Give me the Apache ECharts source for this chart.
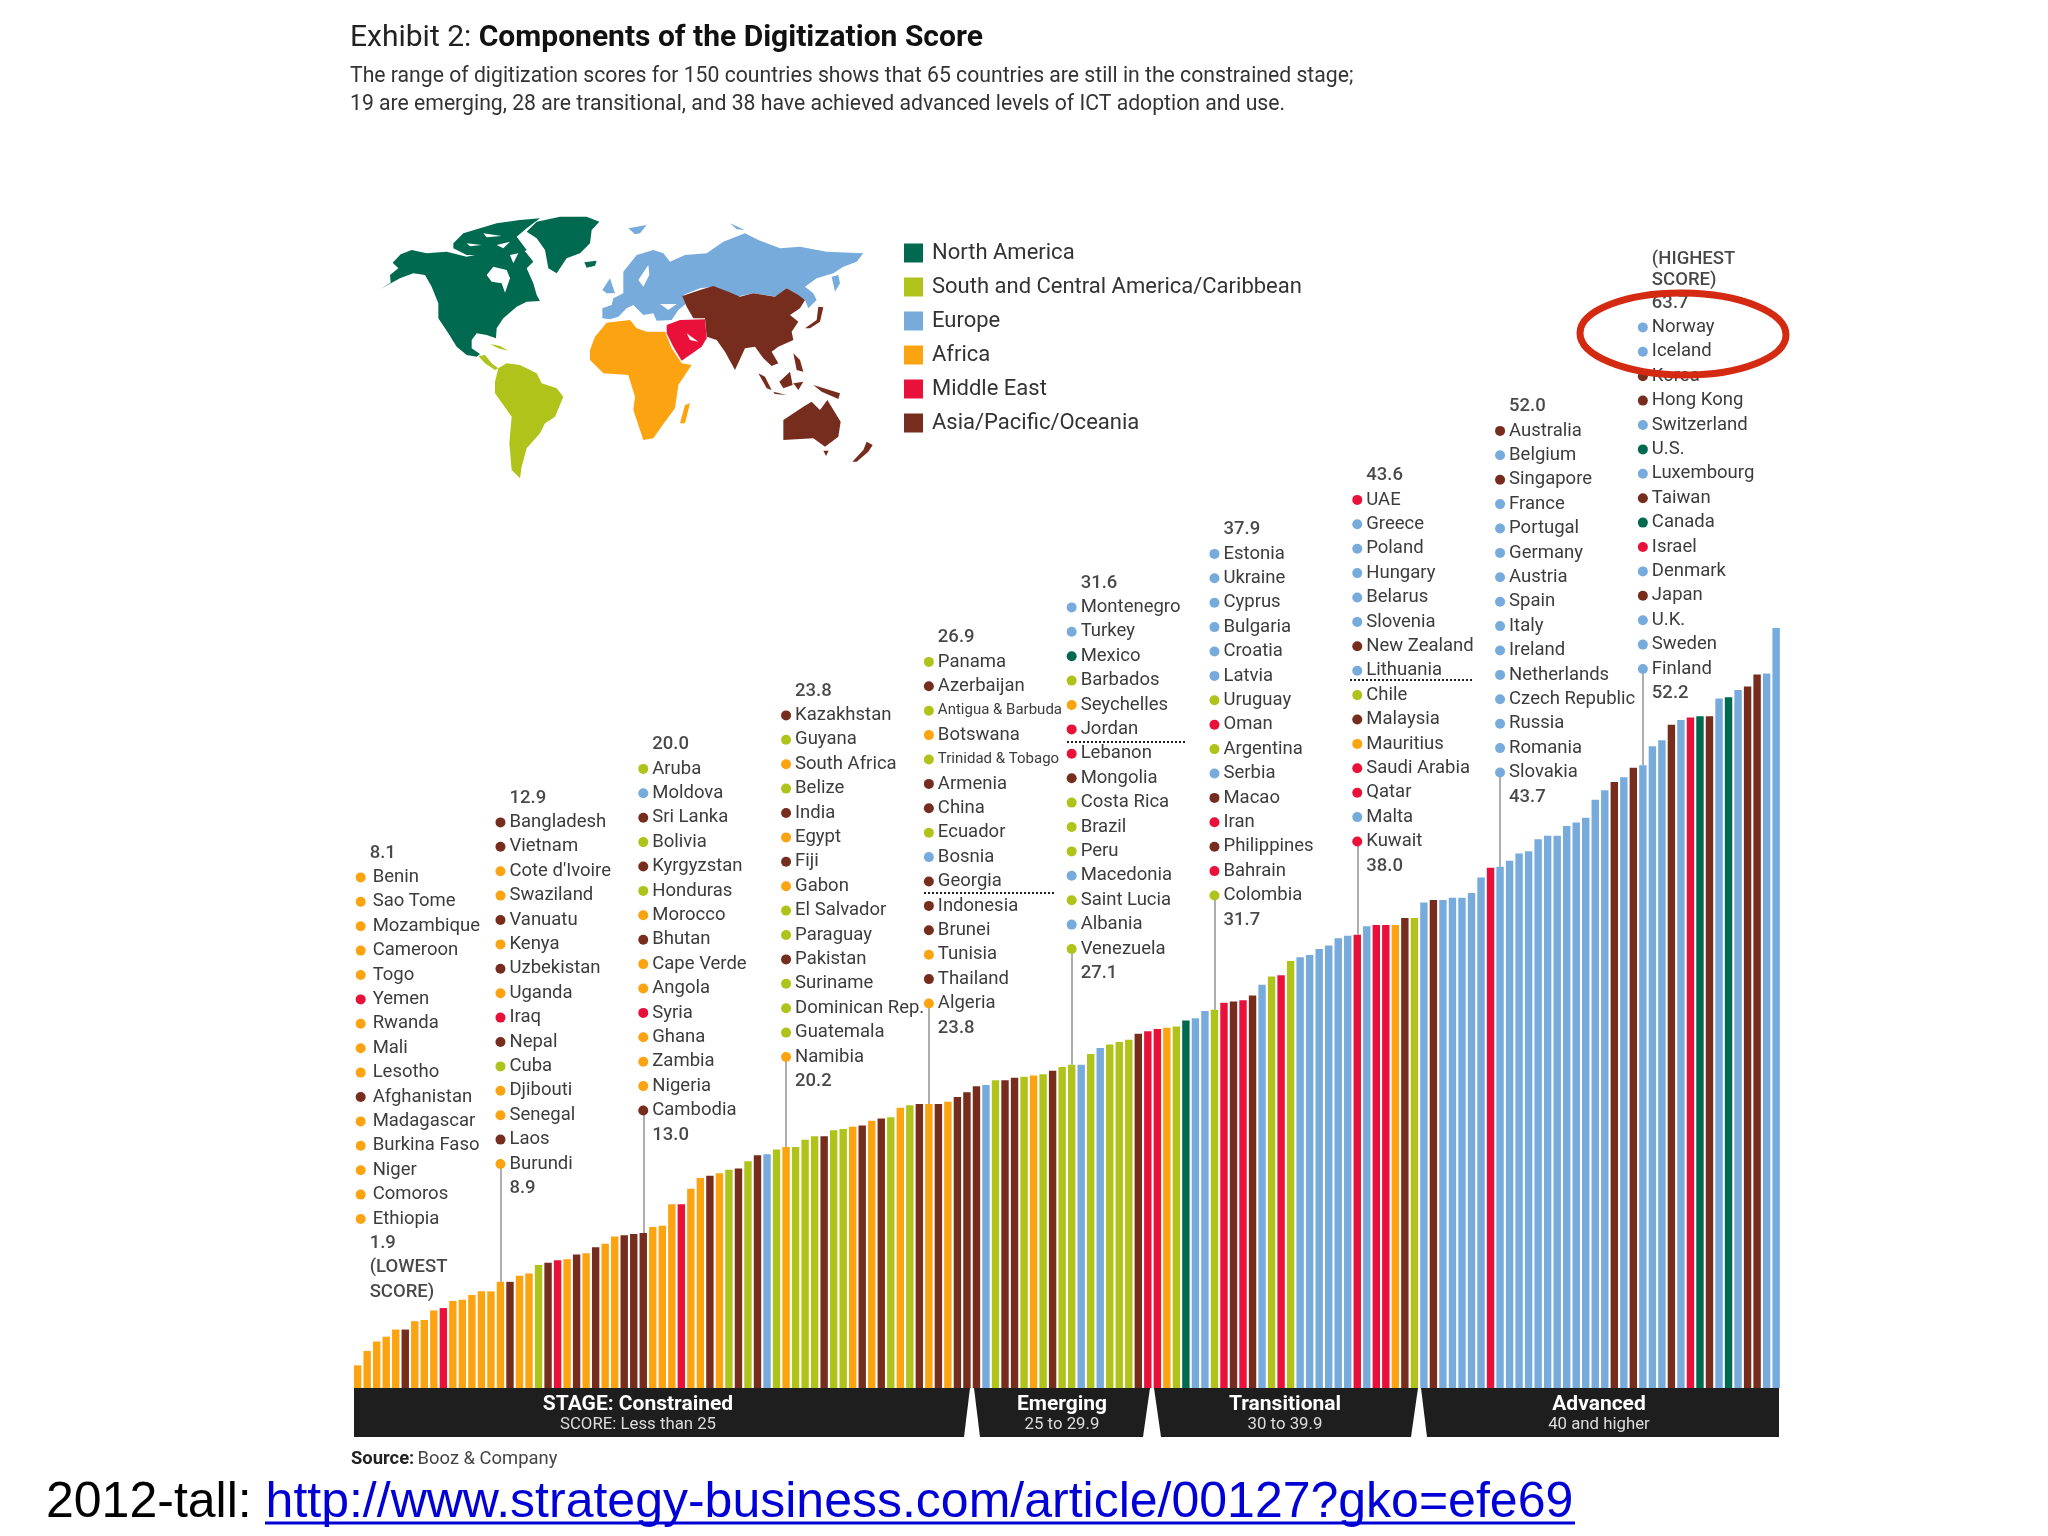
<!DOCTYPE html>
<html><head><meta charset="utf-8">
<script src="https://cdn.jsdelivr.net/npm/echarts@6/dist/echarts.min.js"></script>
<style>html,body{margin:0;background:#fff}#c{width:2048px;height:1536px}</style></head>
<body><div id="c"></div>
<script>
// ---------- data (lowest score first) ----------
const regionNames = ['North America','South and Central America/Caribbean','Europe','Africa','Middle East','Asia/Pacific/Oceania'];
const regionColors = ['#006a50','#afc31a','#77abdc','#fca311','#e9103a','#772d1e'];
const countries = [
'Ethiopia','Comoros','Niger','Burkina Faso','Madagascar','Afghanistan','Lesotho','Mali','Rwanda','Yemen','Togo','Cameroon','Mozambique','Sao Tome','Benin',
'Burundi','Laos','Senegal','Djibouti','Cuba','Nepal','Iraq','Uganda','Uzbekistan','Kenya','Vanuatu','Swaziland',"Cote d'Ivoire",'Vietnam','Bangladesh',
'Cambodia','Nigeria','Zambia','Ghana','Syria','Angola','Cape Verde','Bhutan','Morocco','Honduras','Kyrgyzstan','Bolivia','Sri Lanka','Moldova','Aruba',
'Namibia','Guatemala','Dominican Rep.','Suriname','Pakistan','Paraguay','El Salvador','Gabon','Fiji','Egypt','India','Belize','South Africa','Guyana','Kazakhstan',
'Algeria','Thailand','Tunisia','Brunei','Indonesia','Georgia','Bosnia','Ecuador','China','Armenia','Trinidad & Tobago','Botswana','Antigua & Barbuda','Azerbaijan','Panama',
'Venezuela','Albania','Saint Lucia','Macedonia','Peru','Brazil','Costa Rica','Mongolia','Lebanon','Jordan','Seychelles','Barbados','Mexico','Turkey','Montenegro',
'Colombia','Bahrain','Philippines','Iran','Macao','Serbia','Argentina','Oman','Uruguay','Latvia','Croatia','Bulgaria','Cyprus','Ukraine','Estonia',
'Kuwait','Malta','Qatar','Saudi Arabia','Mauritius','Malaysia','Chile','Lithuania','New Zealand','Slovenia','Belarus','Hungary','Poland','Greece','UAE',
'Slovakia','Romania','Russia','Czech Republic','Netherlands','Ireland','Italy','Spain','Austria','Germany','Portugal','France','Singapore','Belgium','Australia',
'Finland','Sweden','U.K.','Japan','Denmark','Israel','Canada','Taiwan','Luxembourg','U.S.','Switzerland','Hong Kong','Korea','Iceland','Norway'];
const countryRegion = [
3,3,3,3,3,5,3,3,3,4,3,3,3,3,3,
3,5,3,3,1,5,4,3,5,3,5,3,3,5,5,
5,3,3,3,4,3,3,5,3,1,5,1,5,2,1,
3,1,1,1,5,1,1,3,5,3,5,1,3,1,5,
3,5,3,5,5,5,2,1,5,5,1,3,1,5,1,
1,2,1,2,1,1,1,5,4,4,3,1,0,2,2,
1,4,5,4,5,2,1,4,1,2,2,2,2,2,2,
4,2,4,4,3,5,1,2,5,2,2,2,2,2,4,
2,2,2,2,2,2,2,2,2,2,2,2,5,2,5,
2,2,2,5,2,4,0,5,2,0,2,5,5,2,2];
const scores = [
1.9,3.1,3.9,4.3,4.9,4.9,5.6,5.7,6.5,6.7,7.3,7.4,7.8,8.1,8.1,
8.9,8.9,9.4,9.6,10.3,10.5,10.7,10.8,11.2,11.3,11.8,12.1,12.7,12.8,12.9,
13.0,13.5,13.6,15.4,15.4,16.7,17.6,17.8,18.0,18.3,18.4,19.0,19.5,19.6,20.0,
20.2,20.2,20.8,21.1,21.1,21.6,21.7,21.9,22.0,22.4,22.6,22.7,23.5,23.7,23.8,
23.8,23.8,24.0,24.4,24.8,25.3,25.4,25.8,25.8,26.0,26.1,26.2,26.3,26.6,26.9,
27.1,27.1,28.0,28.5,28.8,29.0,29.2,29.7,29.9,30.1,30.2,30.3,30.8,31.0,31.6,
31.7,32.3,32.4,32.5,32.9,33.8,34.5,34.6,35.8,36.1,36.3,36.8,37.1,37.7,37.9,
38.0,38.7,38.8,38.8,38.8,39.4,39.4,40.7,40.9,40.9,41.1,41.1,41.5,42.8,43.6,
43.7,44.2,44.8,45.0,46.0,46.3,46.3,47.1,47.4,47.8,49.3,50.1,50.8,51.2,52.0,
52.2,53.8,54.3,55.6,56.0,56.2,56.3,56.3,57.8,57.9,58.5,58.8,59.8,59.9,63.7];
const columnTopValues = ['8.1','12.9','20.0','23.8','26.9','31.6','37.9','43.6','52.0','63.7'];
const columnBottomValues = ['1.9','8.9','13.0','20.2','23.8','27.1','31.7','38.0','43.7','52.2'];
const stageNames = ['STAGE: Constrained','Emerging','Transitional','Advanced'];
const stageScores = ['SCORE: Less than 25','25 to 29.9','30 to 39.9','40 and higher'];

// ---------- layout ----------
const baseY = 1388, pxPerUnit = 11.93, rowPitch = 24.4, perColumn = 15;
const columnBottomY = [1219,1164,1110.5,1057,1003.5,949,895.5,841.5,772.5,669];
const toVal = py => (baseY - py) / pxPerUnit;
const FONT = 'Roboto';
const dots = [], plain = [], leaders = [];
columnBottomY.forEach((by, c) => {
  const first = c * perColumn;
  const shift = c === 0 ? 3 : 0;   // first column sits a little right of its bar
  for (let r = 0; r < perColumn; r++) {
    const i = first + r, name = countries[i];
    const narrow = name.includes('&');
    dots.push({value:[first, toVal(by - r*rowPitch)], name,
      symbolOffset:[shift,0],
      itemStyle:{color:regionColors[countryRegion[i]], opacity:1},
      label: {fontSize: narrow ? 15 : 18.5, offset:[shift,0]}});
  }
  plain.push({value:[first, toVal(by + rowPitch)], name:columnBottomValues[c], label:{offset:[shift,0]}});
  plain.push({value:[first, toVal(by - 15*rowPitch)], name:columnTopValues[c], label:{offset:[shift,0]}});
  if (c > 0) leaders.push([{xAxis:first, yAxis:toVal(by)},{xAxis:first, yAxis:scores[first]}]);
});
plain.push({value:[0, toVal(1219 + 2*rowPitch)], name:'(LOWEST', label:{offset:[3,0]}});
plain.push({value:[0, toVal(1219 + 3*rowPitch)], name:'SCORE)', label:{offset:[3,0]}});
plain.push({value:[135, toVal(259)], name:'(HIGHEST'});
plain.push({value:[135, toVal(280)], name:'SCORE)'});

const barSeries = regionNames.map((nm, ri) => ({
  name:nm, type:'bar', stack:'all', barWidth:7.4, silent:true,
  itemStyle:{color:regionColors[ri]},
  data:scores.map((v,i)=> countryRegion[i]===ri ? v : null),
  markLine: ri===0 ? {silent:true, symbol:'none', label:{show:false},
    lineStyle:{color:'#9a9a9a', width:1.6, type:'solid'}, data:leaders, animation:false} : undefined
}));

// ---------- map outline (illustration, in a 3x local frame) ----------
const mapShapes = [
 [0,[[30,268],[62,248],[60,225],[85,205],[68,188],[92,163],[125,150],[170,160],[230,155],[290,170],[340,160],[380,135],[440,130],[470,160],[490,185],[470,205],[490,250],[500,285],[510,303],[470,305],[440,320],[400,355],[380,385],[378,415],[350,405],[320,400],[305,420],[305,445],[330,462],[320,470],[290,465],[260,440],[235,400],[205,355],[205,310],[185,260],[165,225],[130,220],[90,235]]],
 [-1,[[350,225],[370,200],[410,210],[420,235],[405,278],[395,250],[365,245]]],
 [0,[[250,130],[280,100],[330,85],[380,70],[450,60],[510,55],[470,85],[440,110],[470,150],[440,170],[400,150],[350,165],[290,165],[250,145]]],
 [-1,[[340,100],[395,108],[350,112]]],[-1,[[380,135],[420,125],[400,145]]],[-1,[[290,130],[335,135],[300,139]]],[-1,[[420,165],[445,160],[430,190]]],
 [0,[[470,95],[500,65],[570,50],[650,50],[688,65],[665,90],[660,130],[630,160],[590,175],[560,220],[535,205],[525,150],[500,115]]],
 [0,[[643,187],[680,182],[675,197],[650,203]]],
 [1,[[325,468],[345,465],[365,490],[385,505],[375,510],[345,490]]],
 [1,[[360,432],[390,438],[415,452],[385,445]]],
 [1,[[385,505],[410,490],[450,495],[500,520],[515,550],[560,565],[580,590],[555,650],[525,670],[510,700],[470,745],[455,800],[450,835],[425,810],[418,730],[425,650],[375,580],[375,545]]],
 [2,[[697,355],[697,325],[725,315],[730,295],[760,280],[760,215],[800,165],[850,150],[880,160],[900,185],[945,165],[1010,160],[1060,125],[1125,100],[1165,120],[1230,145],[1290,140],[1370,155],[1480,160],[1460,185],[1420,200],[1390,220],[1340,235],[1305,260],[1330,280],[1340,300],[1315,325],[1305,300],[1250,265],[1220,290],[1150,280],[1100,290],[1030,260],[990,265],[940,285],[950,310],[925,330],[905,360],[860,362],[850,340],[820,345],[790,315],[770,325],[745,350],[720,358]]],
 [-1,[[870,312],[920,312],[895,330]]],[-1,[[805,240],[835,195],[838,225],[820,260]]],[-1,[[945,165],[990,125],[1000,105],[960,120]]],
 [2,[[697,270],[720,235],[735,280],[710,280]]],
 [2,[[775,85],[830,75],[810,100],[795,103]]],
 [2,[[1080,70],[1125,90],[1100,88]]],
 [2,[[1385,230],[1405,225],[1410,250],[1395,275]]],
 [5,[[937,288],[990,270],[1030,258],[1075,275],[1110,290],[1150,280],[1215,290],[1250,265],[1285,285],[1305,300],[1290,325],[1260,345],[1285,365],[1265,395],[1270,420],[1225,440],[1205,455],[1225,490],[1205,498],[1180,475],[1155,440],[1125,445],[1095,510],[1065,455],[1040,420],[1010,410],[1005,355],[970,355],[950,320]]],
 [4,[[890,375],[930,360],[1005,358],[1010,415],[995,440],[935,482],[910,440],[890,400]]],
 [-1,[[950,400],[985,425],[960,420]]],
 [3,[[660,450],[675,410],[710,368],[780,360],[800,385],[830,395],[885,395],[905,445],[935,490],[965,495],[925,555],[915,625],[885,665],[850,715],[820,720],[790,630],[795,590],[775,525],[700,520],[660,480]]],
 [3,[[945,615],[960,610],[945,670],[930,670]]],
 [5,[[1305,385],[1340,360],[1345,320],[1360,322],[1350,365],[1320,385]]],
 [5,[[1165,520],[1185,530],[1205,570],[1190,565]]],
 [5,[[1210,575],[1250,585],[1215,582]]],
 [5,[[1228,545],[1260,515],[1268,555],[1240,565]]],
 [5,[[1270,460],[1290,480],[1300,515],[1280,510]]],
 [5,[[1330,555],[1410,580],[1405,597],[1355,575]]],
 [5,[[1270,550],[1300,545],[1285,570]]],
 [5,[[1240,660],[1300,620],[1325,605],[1350,630],[1372,600],[1412,665],[1405,710],[1365,740],[1330,715],[1240,720]]],
 [5,[[1360,752],[1376,752],[1368,768]]],
 [5,[[1447,785],[1480,750],[1490,725],[1508,735],[1495,755],[1460,785]]]
];
const stageBands = [
 {pts:[[354,1388],[970,1388],[964,1437],[354,1437]], cx:638},
 {pts:[[974,1388],[1150,1388],[1143,1437],[980,1437]], cx:1062},
 {pts:[[1154,1388],[1418,1388],[1411,1437],[1161,1437]], cx:1285},
 {pts:[[1421,1388],[1779,1388],[1779,1437],[1427,1437]], cx:1599}
];
const graphics = [];
graphics.push({type:'group', x:370, y:200, scaleX:1/3, scaleY:1/3, silent:true,
  children:mapShapes.map(([r,pts])=>({type:'polygon', shape:{points:pts}, style:{fill:r<0?'#fff':regionColors[r]}}))});
stageBands.forEach((b,i)=>{
  graphics.push({type:'polygon', shape:{points:b.pts}, style:{fill:'#1e1e1e'}, silent:true});
  graphics.push({type:'text', x:b.cx, y:1405, silent:true, style:{text:stageNames[i], fill:'#fff', font:'bold 21px '+FONT, textAlign:'center', textVerticalAlign:'middle'}});
  graphics.push({type:'text', x:b.cx, y:1425, silent:true, style:{text:stageScores[i], fill:'#ddd', font:'16.8px '+FONT, textAlign:'center', textVerticalAlign:'middle'}});
});
[[924,1054,893],[1067,1186,742],[1350,1472,680]].forEach(([a,b,y])=>{
  graphics.push({type:'line', silent:true, shape:{x1:a,y1:y,x2:b,y2:y}, style:{stroke:'#222', lineWidth:2, lineDash:[2,2]}});
});
graphics.push({type:'ellipse', silent:true, z:100, shape:{cx:1683,cy:334,rx:103,ry:41}, rotation:-0.01, originX:1683, originY:334,
  style:{fill:'none', stroke:'#d42a12', lineWidth:7}});
graphics.push({type:'text', x:351, y:1459, silent:true, style:{
  text:'{b|Source:} {n|Booz & Company}', textVerticalAlign:'middle',
  rich:{b:{font:'bold 18.4px '+FONT, fill:'#222'}, n:{font:'18.4px '+FONT, fill:'#444'}}}});
graphics.push({type:'text', x:46, y:1503, silent:true, style:{
  text:'{k|2012-tall: }{u|http://www.strategy-business.com/article/00127?gko=efe69}', textVerticalAlign:'middle',
  rich:{k:{font:'50px "Liberation Sans"', fill:'#000'}, u:{font:'50px "Liberation Sans"', fill:'#0000d6'}}}});
graphics.push({type:'line', silent:true, shape:{x1:265,y1:1523,x2:1575,y2:1523}, style:{stroke:'#0000d6', lineWidth:3}});

const option = {
  animation:false, backgroundColor:'#fff',
  title:{left:345, top:18, itemGap:10,
    text:'{a|Exhibit 2: }{b|Components of the Digitization Score}',
    textStyle:{rich:{a:{fontFamily:FONT,fontSize:30,fontWeight:'normal',color:'#222'}, b:{fontFamily:FONT,fontSize:30,fontWeight:'bold',color:'#111'}}},
    subtext:'The range of digitization scores for 150 countries shows that 65 countries are still in the constrained stage;\n19 are emerging, 28 are transitional, and 38 have achieved advanced levels of ICT adoption and use.',
    subtextStyle:{fontFamily:FONT,fontSize:21.2,color:'#333',lineHeight:27.5}},
  legend:{orient:'vertical', left:899, top:237, itemWidth:19, itemHeight:19, itemGap:12, icon:'rect',
    data:regionNames, selectedMode:false, textStyle:{fontFamily:FONT,fontSize:22,lineHeight:19,color:'#333',padding:[0,0,0,4]}},
  grid:{left:352.9, width:1428, top:baseY-100*pxPerUnit, height:100*pxPerUnit, containLabel:false},
  xAxis:{type:'category', data:countries, show:false, boundaryGap:true},
  yAxis:{type:'value', min:0, max:100, show:false},
  graphic:graphics,
  series:[...barSeries,
    {type:'scatter', symbolSize:10, silent:true, data:dots, z:5,
     label:{show:true, position:'right', distance:4, formatter:p=>p.name, fontFamily:FONT, fontSize:18.5, color:'#3c3c3c'}},
    {type:'scatter', symbolSize:10, silent:true, data:plain, z:5, itemStyle:{color:'transparent'},
     label:{show:true, position:'right', distance:4, formatter:p=>p.name, fontFamily:FONT, fontSize:18.5, fontWeight:500, color:'#1a1a1a'}}
  ]
};
const chart = echarts.init(document.getElementById('c'), null, {renderer:'canvas'});
chart.setOption(option);
</script></body></html>
